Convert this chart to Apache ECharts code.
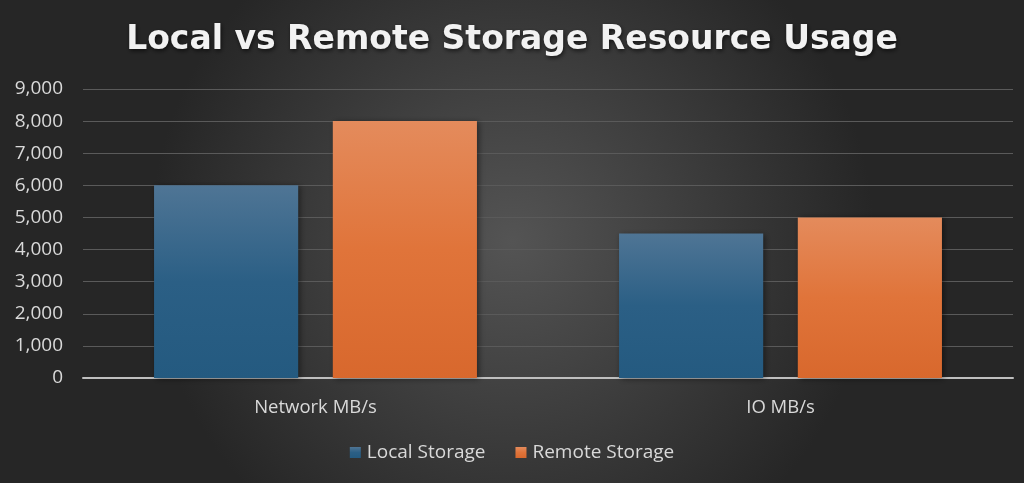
<!DOCTYPE html>
<html><head><meta charset="utf-8">
<script src="https://cdn.jsdelivr.net/npm/echarts@6/dist/echarts.min.js"></script>
<style>html,body{margin:0;padding:0;background:#333;}#c{width:1024px;height:483px;}</style>
</head><body><div id="c"></div>
<script>
const categories = ['Network MB/s', 'IO MB/s'];
const localStorage_ = [6000, 4500];
const remoteStorage = [8000, 5000];
const yTicks = [0, 1000, 2000, 3000, 4000, 5000, 6000, 7000, 8000, 9000];

const chart = echarts.init(document.getElementById('c'));
const font = '"Open Sans", Lato, sans-serif';
chart.setOption({
  backgroundColor: {
    type: 'radial', x: 0.5, y: 0.5, r: 0.75,
    colorStops: [{offset: 0, color: '#545454'}, {offset: 1, color: '#262626'}]
  },
  animation: false,
  title: {
    text: 'Local vs Remote Storage Resource Usage',
    left: 'center', top: 19,
    textStyle: {
      color: '#f2f2f2', fontSize: 33, fontWeight: 'bold', fontFamily: '"DejaVu Sans", sans-serif',
      textShadowColor: 'rgba(0,0,0,0.6)', textShadowBlur: 4, textShadowOffsetX: 1, textShadowOffsetY: 2
    }
  },
  legend: {
    bottom: 16, left: 'center',
    itemWidth: 11, itemHeight: 11, itemGap: 30,
    icon: 'rect',
    textStyle: {color: '#d9d9d9', fontSize: 19, fontFamily: font, padding: [0, 0, 0, 1]},
    data: ['Local Storage', 'Remote Storage']
  },
  grid: {left: 83, right: 11, top: 89, bottom: 105, containLabel: false},
  xAxis: {
    type: 'category', data: categories,
    axisLine: {lineStyle: {color: '#bfbfbf', width: 2}},
    axisTick: {show: false},
    axisLabel: {color: '#d9d9d9', fontSize: 18.5, fontFamily: font, margin: 20}
  },
  yAxis: {
    type: 'value', min: 0, max: 9000, interval: 1000,
    axisLine: {show: false}, axisTick: {show: false},
    splitLine: {lineStyle: {color: '#5a5a5a', width: 1}},
    axisLabel: {
      color: '#d9d9d9', fontSize: 19, fontFamily: font, margin: 20,
      formatter: v => yTicks.includes(v) ? v.toLocaleString('en-US') : ''
    }
  },
  series: [
    {
      name: 'Local Storage', type: 'bar', data: localStorage_,
      barWidth: '31%', barGap: '24%',
      itemStyle: {
        color: {type: 'linear', x: 0, y: 0, x2: 0, y2: 1,
          colorStops: [{offset: 0, color: '#4f7595'}, {offset: 0.5, color: '#2b5f85'}, {offset: 1, color: '#245a80'}]},
        shadowColor: 'rgba(0,0,0,0.45)', shadowBlur: 6, shadowOffsetX: 2, shadowOffsetY: 1
      }
    },
    {
      name: 'Remote Storage', type: 'bar', data: remoteStorage,
      barWidth: '31%',
      itemStyle: {
        color: {type: 'linear', x: 0, y: 0, x2: 0, y2: 1,
          colorStops: [{offset: 0, color: '#e48b5c'}, {offset: 0.5, color: '#e0743a'}, {offset: 1, color: '#d8682d'}]},
        shadowColor: 'rgba(0,0,0,0.45)', shadowBlur: 6, shadowOffsetX: 2, shadowOffsetY: 1
      }
    }
  ]
});
</script>
</body></html>
